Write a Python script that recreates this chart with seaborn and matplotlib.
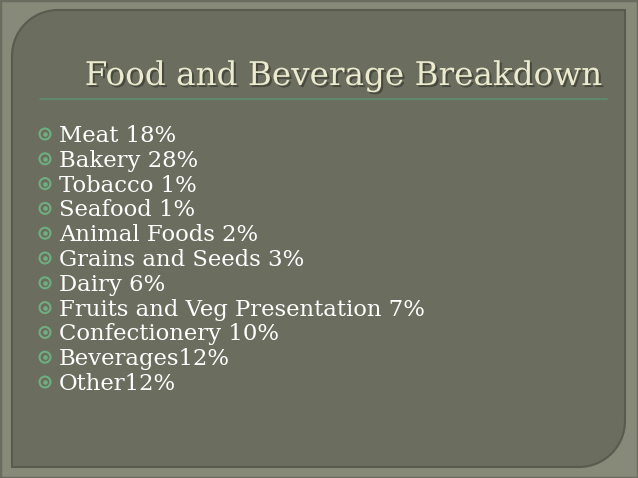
import matplotlib
matplotlib.use("Agg")
import matplotlib.pyplot as plt
import matplotlib.patheffects as pe
from matplotlib.path import Path
from matplotlib.patches import PathPatch, Rectangle
import seaborn as sns
import pandas as pd

title = "Food and Beverage Breakdown"
categories = ["Meat", "Bakery", "Tobacco", "Seafood", "Animal Foods",
              "Grains and Seeds", "Dairy", "Fruits and Veg Presentation",
              "Confectionery", "Beverages", "Other"]
percents = [18, 28, 1, 1, 2, 3, 6, 7, 10, 12, 12]
separators = [" ", " ", " ", " ", " ", " ", " ", " ", " ", "", ""]
labels = [f"{c}{s}{p}%" for c, s, p in zip(categories, separators, percents)]

sns.set_theme(style="white")
plt.rcParams["font.family"] = ["DejaVu Serif", "DejaVu Sans"]

W, H = 638, 478
fig = plt.figure(figsize=(W / 100, H / 100), dpi=100)
fig.patch.set_facecolor("#878a78")
ax = fig.add_axes([0, 0, 1, 1])

# outer thin dark border
ax.add_patch(Rectangle((0, 0), W, H, facecolor="none", edgecolor="#6a6c60", lw=2.5, zorder=0))

# panel with rounded top-left and bottom-right corners
L, T, R, B, r = 12, 10, 625, 467, 46
k = 0.5523 * r
verts = [(L, T + r), (L, T + r - k), (L + r - k, T), (L + r, T),
         (R, T), (R, B - r), (R, B - r + k), (R - r + k, B), (R - r, B),
         (L, B), (L, T + r)]
codes = [Path.MOVETO, Path.CURVE4, Path.CURVE4, Path.CURVE4,
         Path.LINETO, Path.LINETO, Path.CURVE4, Path.CURVE4, Path.CURVE4,
         Path.LINETO, Path.CLOSEPOLY]
panel = PathPatch(Path(verts, codes), facecolor="#6b6d5f", edgecolor="#595b4f",
                  lw=1.5, zorder=1)
ax.add_patch(panel)

# title
ax.text(343, 85, title, ha="center", va="baseline", fontsize=23.5,
        color="#ecebcf", zorder=3,
        path_effects=[pe.withSimplePatchShadow(offset=(1.5, -1.5), shadow_rgbFace="#3e4036", alpha=0.8)])
ax.plot([40, 607], [99, 99], color="#5f8a68", lw=1.3, zorder=2)

# bullets
ys = [142 + 24.8 * i for i in range(len(labels))]
df = pd.DataFrame({"x": [45] * len(labels), "y": [y - 8 for y in ys], "label": labels})
sns.scatterplot(data=df, x="x", y="y", ax=ax, s=62, marker="o",
                facecolor="none", edgecolor="#6fae80", linewidth=1.5, zorder=3, legend=False)
sns.scatterplot(data=df, x="x", y="y", ax=ax, s=11, marker="o",
                color="#6fae80", linewidth=0, zorder=4, legend=False)
ax.set_xlim(0, W)
ax.set_ylim(H, 0)
ax.axis("off")

for y, lab in zip(ys, labels):
    ax.text(59, y, lab, ha="left", va="baseline", fontsize=16.4, color="#ffffff", zorder=3)

fig.savefig("out.png", dpi=100, facecolor=fig.get_facecolor())
